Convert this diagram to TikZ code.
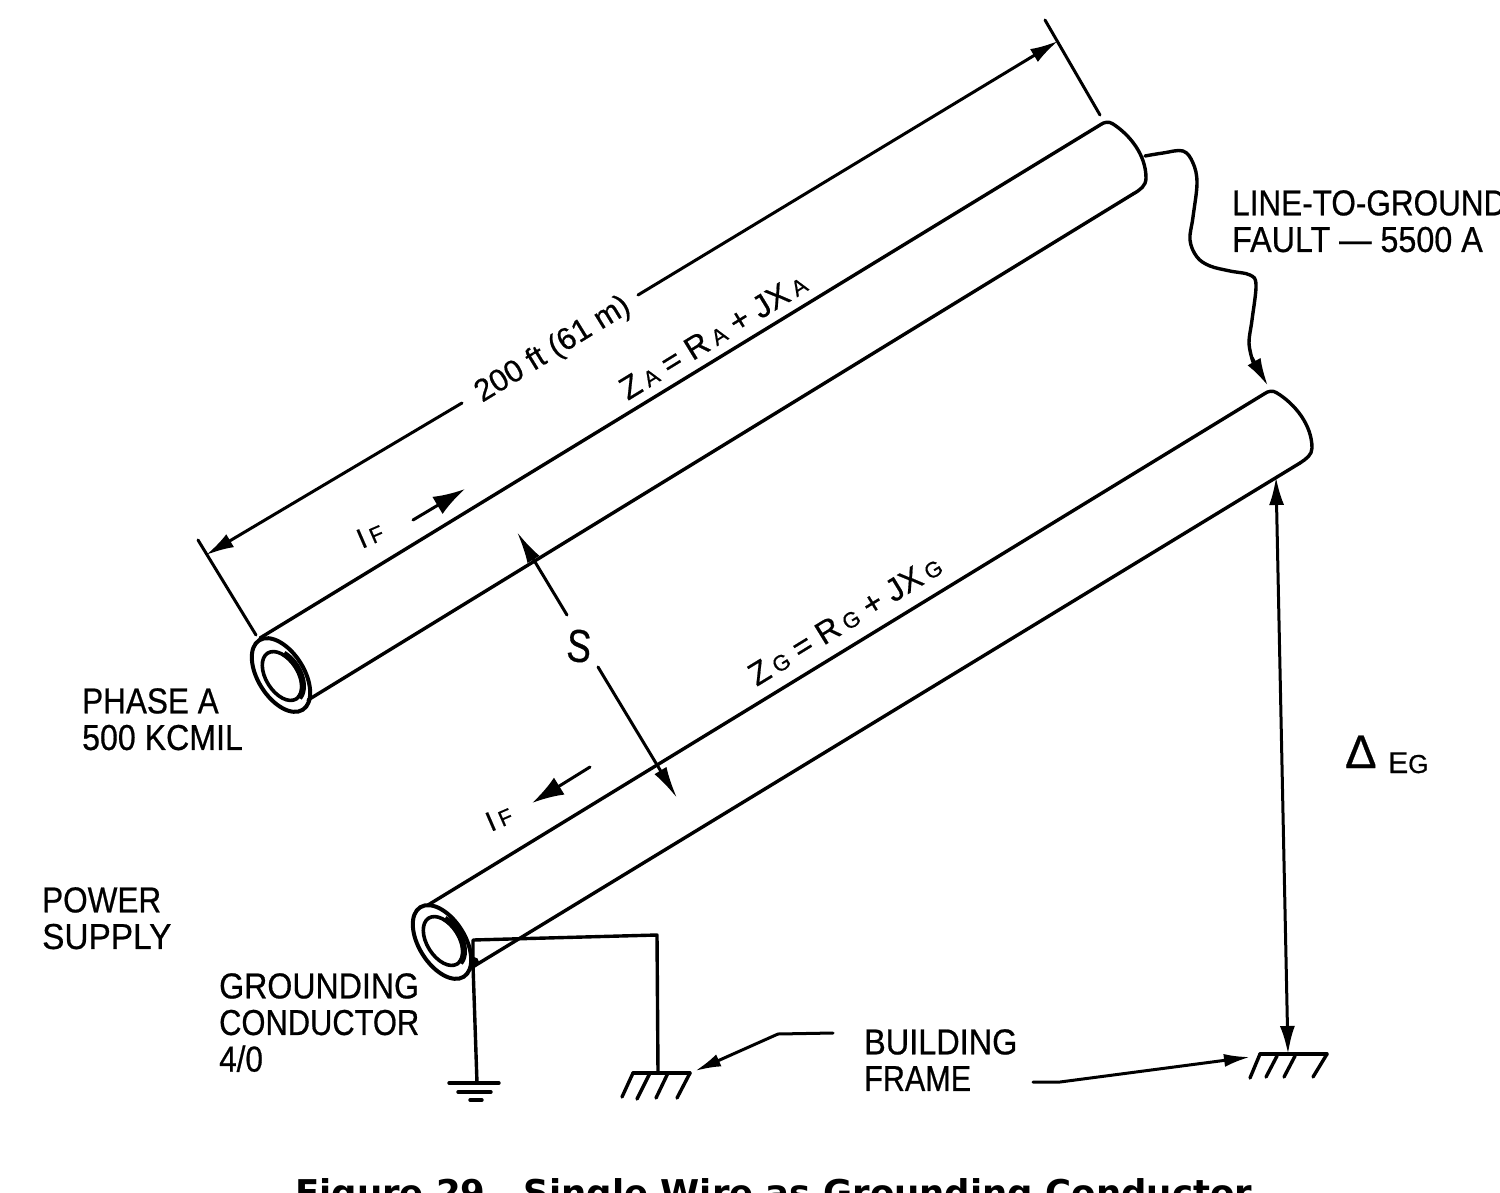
\documentclass[tikz,border=0pt]{standalone}
\usepackage{fontspec}
\setmainfont[FakeBold=0.6]{Liberation Sans}
\newfontfamily\titlefont{DejaVu Sans}
\usetikzlibrary{arrows.meta}
\newcommand{\subl}[1]{{\fontsize{22}{22}\selectfont #1}}
\newcommand{\sx}[2]{\scalebox{#1}[1]{#2}}
\tikzset{
 wire/.style={line width=3.4pt,line cap=round,line join=round},
 thin wire/.style={line width=3pt,line cap=round,line join=round},
 head/.style={-{Latex[length=28pt,width=15pt]}},
 bighead/.style={-{Latex[length=32pt,width=20pt]}},
 twohead/.style={{Latex[length=28pt,width=15pt]}-{Latex[length=28pt,width=15pt]}},
 lab/.style={font=\fontsize{36}{36.6}\selectfont,align=left,anchor=north west,inner sep=0pt,xscale=0.875},
 hand/.style={font=\fontsize{32}{32}\selectfont,inner sep=0pt,rotate=31.5},
}
\begin{document}
\begin{tikzpicture}[x=1pt,y=-1pt]
\useasboundingbox (0,0) rectangle (1500,1192);
\clip (0,0) rectangle (1500,1192);
\fill[white] (0,0) rectangle (1500,1192);
% Phase A tube
\coordinate (aTopL) at (260,638);
\coordinate (aTopR) at (1100,125);
\coordinate (aBotL) at (308,700);
\coordinate (aBotR) at (1133,194);
\draw[wire] (aTopL) -- (aTopR) .. controls (1104,122) and (1109,121) .. (1113,124) .. controls (1130,135) and (1146,155) .. (1146,178) .. controls (1146,186) and (1140,190) .. (aBotR);
\draw[wire] (aBotR) -- (aBotL);
\begin{scope}[shift={(281,675)},rotate=-58]
 \draw[line width=4pt] (0,0) ellipse (41 and 23);
\end{scope}
\begin{scope}[shift={(282,676)},rotate=-58]
 \draw[line width=3.6pt] (0,0) ellipse (27 and 16);
 \draw[line width=6pt] plot[domain=-130:-10,samples=24] ({28*cos(\x)},{17.5*sin(\x)});
\end{scope}
% Ground tube
\coordinate (gTopL) at (428,905);
\coordinate (gTopR) at (1264,394);
\coordinate (gBotL) at (471,968);
\coordinate (gBotR) at (1300,463);
\draw[wire] (gTopL) -- (gTopR) .. controls (1268,391) and (1273,390) .. (1277,393) .. controls (1295,404) and (1312,425) .. (1312,448) .. controls (1312,455) and (1306,459) .. (gBotR);
\draw[wire] (gBotR) -- (gBotL);
\begin{scope}[shift={(442,942)},rotate=-58]
 \draw[line width=4pt] (0,0) ellipse (41 and 23);
\end{scope}
\begin{scope}[shift={(443,941)},rotate=-58]
 \draw[line width=3.6pt] (0,0) ellipse (27 and 16);
 \draw[line width=6pt] plot[domain=-130:-10,samples=24] ({28*cos(\x)},{17.5*sin(\x)});
\end{scope}
% length dimension
\coordinate (extLa) at (198,540);
\coordinate (extLb) at (256,635);
\coordinate (extRa) at (1045,20);
\coordinate (extRb) at (1100,115);
\coordinate (dimL) at (206,555);
\coordinate (dimLe) at (462,403);
\coordinate (dimRs) at (638,295);
\coordinate (dimR) at (1058,41);
\draw[thin wire] (extLa) -- (extLb);
\draw[thin wire] (extRa) -- (extRb);
\draw[thin wire,head] (dimLe) -- (dimL);
\draw[thin wire,head] (dimRs) -- (dimR);
\node[hand,font=\fontsize{31}{31}\selectfont] (len) at (553,350) {200 ft (61 m)};
% labels along tubes
\node[hand] (za) at (713,336) {Z\,\subl{A} = R\,\subl{A} + JX\,\subl{A}};
\node[hand] (zg) at (845,620) {Z\,\subl{G} = R\,\subl{G} + JX\,\subl{G}};
% currents
\coordinate (ifAa) at (413,520);
\coordinate (ifAb) at (465,489);
\draw[thin wire,bighead] (ifAa) -- (ifAb);
\node[hand,font=\fontsize{28}{28}\selectfont,rotate=-8] (ifA) at (370,535) {I\,\subl{F}};
\coordinate (ifGa) at (590,767);
\coordinate (ifGb) at (532,803);
\draw[thin wire,bighead] (ifGa) -- (ifGb);
\node[hand,font=\fontsize{28}{28}\selectfont,rotate=-8] (ifG) at (499,818) {I\,\subl{F}};
% spacing S
\node[inner sep=0pt,font=\fontsize{46}{46}\selectfont,xscale=0.8,rotate=-5] (s) at (579,646) {S};
\coordinate (sTop) at (517,532);
\coordinate (sTopE) at (567,615);
\coordinate (sBotS) at (598,667);
\coordinate (sBot) at (677,798);
\draw[thin wire,-{Latex[length=32pt,width=14pt]}] (sTopE) -- (sTop);
\draw[thin wire,-{Latex[length=32pt,width=14pt]}] (sBotS) -- (sBot);
% fault wire
\coordinate (fs) at (1145,156);
\coordinate (fe) at (1268,386);
\draw[wire] plot[smooth,tension=0.6] coordinates {(1145,156) (1163,153) (1183,151) (1193,163) (1197,183) (1193,217) (1190,240) (1197,257) (1210,266) (1230,271) (1250,275) (1256,285) (1252,320) (1249,343) (1253,362)};
\draw[wire,-{Latex[length=28pt,width=15pt]}] (1252,358) -- (fe);
% delta E
\coordinate (deT) at (1276,477);
\coordinate (deB) at (1288,1054);
\draw[thin wire,twohead] (deT) -- (deB);
\node[font=\fontsize{47}{47}\selectfont,inner sep=0pt,anchor=base west] (de) at (1345,768) {Δ};
\node[font=\fontsize{30}{30}\selectfont,inner sep=0pt,anchor=base west] (deE) at (1388,773) {E{\fontsize{26}{26}\selectfont G}};
% right frame ground
\draw[wire] (1260,1054) -- (1327,1054);
\draw[wire] (1260,1054) -- (1250,1078) (1277,1056) -- (1266,1077) (1295,1056) -- (1284,1077) (1327,1054) -- (1313,1077);
% grounding wires
\coordinate (jn) at (473,965);
\coordinate (gr) at (477,1083);
\coordinate (fr) at (658,1073);
\draw[wire] (jn) -- (473,940) -- (657,935) -- (fr);
\draw[wire] (jn) -- (gr);
\fill (474,962) circle (5);
\draw[wire] (449,1083) -- (499,1083) (458,1092) -- (491,1092) (470,1100) -- (482,1100);
\draw[wire] (633,1073) -- (690,1073);
\draw[wire] (633,1073) -- (622,1097) (650,1073) -- (637,1099) (668,1073) -- (656,1098) (690,1073) -- (677,1098);
% building frame arrows
\coordinate (bL) at (833,1033);
\coordinate (bLk) at (778,1034);
\coordinate (bLt) at (695,1071);
\coordinate (bR) at (1033,1082);
\coordinate (bRk) at (1060,1082);
\coordinate (bRt) at (1250,1057);
\draw[thin wire,-{Latex[length=26pt,width=13pt]}] (bL) -- (bLk) -- (bLt);
\draw[thin wire,-{Latex[length=26pt,width=13pt]}] (bR) -- (bRk) -- (bRt);
% text labels
\node[lab] (phase) at (82,688) {PHASE A\\\sx{1.02}{500 KCMIL}};
\node[lab] (power) at (42,887) {POWER\\\sx{1.06}{SUPPLY}};
\node[lab] (gc) at (219,973) {\sx{1.02}{GROUNDING}\\\sx{0.98}{CONDUCTOR}\\4/0};
\node[lab] (bf) at (864,1029) {\sx{1.03}{BUILDING}\\\sx{0.97}{FRAME}};
\node[lab] (ltg) at (1232,190) {LINE-TO-GROUND\\\sx{1.025}{FAULT — 5500 A}};
\node[font=\titlefont\bfseries\fontsize{35.5}{38}\selectfont,inner sep=0pt,anchor=base west] (title) at (295,1205) {Figure 29\hspace{38pt}Single Wire as Grounding Conductor};
\end{tikzpicture}
\end{document}
